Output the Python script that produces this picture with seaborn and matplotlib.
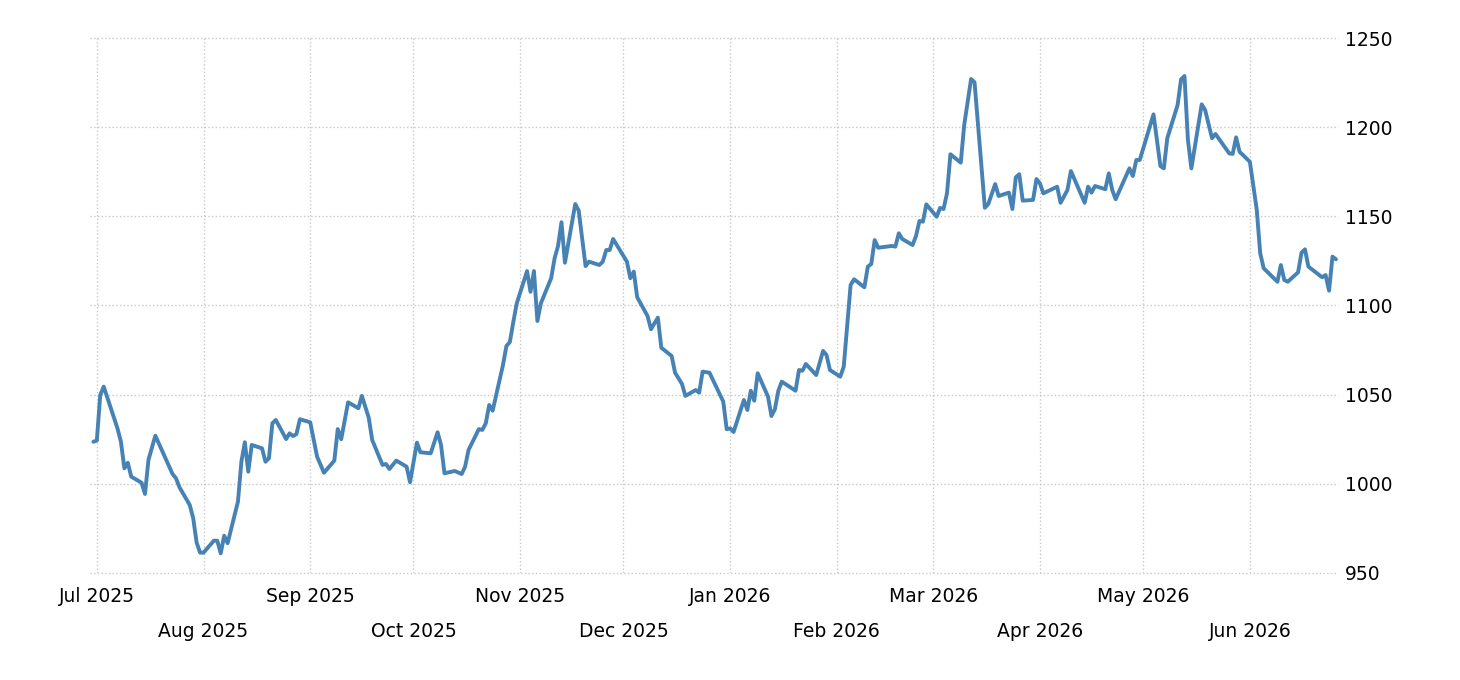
import pandas as pd
import seaborn as sns
import matplotlib.pyplot as plt

# values (approximate)
dates = [
    "2025-06-30", "2025-07-01", "2025-07-02", "2025-07-03", "2025-07-07", "2025-07-08",
    "2025-07-09", "2025-07-10", "2025-07-11", "2025-07-14", "2025-07-15", "2025-07-16",
    "2025-07-18", "2025-07-23", "2025-07-24", "2025-07-25", "2025-07-28", "2025-07-29",
    "2025-07-30", "2025-07-31", "2025-08-01", "2025-08-04", "2025-08-05", "2025-08-06",
    "2025-08-07", "2025-08-08", "2025-08-11", "2025-08-12", "2025-08-13", "2025-08-14",
    "2025-08-15", "2025-08-18", "2025-08-19", "2025-08-20", "2025-08-21", "2025-08-22",
    "2025-08-25", "2025-08-26", "2025-08-27", "2025-08-28", "2025-08-29",
    "2025-09-01", "2025-09-03", "2025-09-05", "2025-09-08", "2025-09-09", "2025-09-10",
    "2025-09-12", "2025-09-15", "2025-09-16", "2025-09-18", "2025-09-19", "2025-09-22",
    "2025-09-23", "2025-09-24", "2025-09-26", "2025-09-29", "2025-09-30",
    "2025-10-02", "2025-10-03", "2025-10-06", "2025-10-08", "2025-10-09", "2025-10-10",
    "2025-10-13", "2025-10-15", "2025-10-16", "2025-10-17", "2025-10-20", "2025-10-21",
    "2025-10-22", "2025-10-23", "2025-10-24", "2025-10-27", "2025-10-28", "2025-10-29",
    "2025-10-30", "2025-10-31",
    "2025-11-03", "2025-11-04", "2025-11-05", "2025-11-06", "2025-11-07", "2025-11-10",
    "2025-11-11", "2025-11-12", "2025-11-13", "2025-11-14", "2025-11-17", "2025-11-18",
    "2025-11-20", "2025-11-21", "2025-11-24", "2025-11-25", "2025-11-26", "2025-11-27",
    "2025-11-28",
    "2025-12-02", "2025-12-03", "2025-12-04", "2025-12-05", "2025-12-08", "2025-12-09",
    "2025-12-11", "2025-12-12", "2025-12-15", "2025-12-16", "2025-12-18", "2025-12-19",
    "2025-12-22", "2025-12-23", "2025-12-24", "2025-12-26", "2025-12-30", "2025-12-31",
    "2026-01-01", "2026-01-02", "2026-01-05", "2026-01-06", "2026-01-07", "2026-01-08",
    "2026-01-09", "2026-01-12", "2026-01-13", "2026-01-14", "2026-01-15", "2026-01-16",
    "2026-01-20", "2026-01-21", "2026-01-22", "2026-01-23", "2026-01-26", "2026-01-28",
    "2026-01-29", "2026-01-30",
    "2026-02-02", "2026-02-03", "2026-02-05", "2026-02-06", "2026-02-09", "2026-02-10",
    "2026-02-11", "2026-02-12", "2026-02-13", "2026-02-17", "2026-02-18", "2026-02-19",
    "2026-02-20", "2026-02-23", "2026-02-24", "2026-02-25", "2026-02-26", "2026-02-27",
    "2026-03-02", "2026-03-03", "2026-03-04", "2026-03-05", "2026-03-06", "2026-03-09",
    "2026-03-10", "2026-03-12", "2026-03-13", "2026-03-16", "2026-03-17", "2026-03-19",
    "2026-03-20", "2026-03-23", "2026-03-24", "2026-03-25", "2026-03-26", "2026-03-27",
    "2026-03-30", "2026-03-31",
    "2026-04-01", "2026-04-02", "2026-04-06", "2026-04-07", "2026-04-09", "2026-04-10",
    "2026-04-14", "2026-04-15", "2026-04-16", "2026-04-17", "2026-04-20", "2026-04-21",
    "2026-04-22", "2026-04-23", "2026-04-27", "2026-04-28", "2026-04-29", "2026-04-30",
    "2026-05-04", "2026-05-06", "2026-05-07", "2026-05-08", "2026-05-11", "2026-05-12",
    "2026-05-13", "2026-05-14", "2026-05-15", "2026-05-18", "2026-05-19", "2026-05-21",
    "2026-05-22", "2026-05-26", "2026-05-27", "2026-05-28", "2026-05-29",
    "2026-06-01", "2026-06-03", "2026-06-04", "2026-06-05", "2026-06-09", "2026-06-10",
    "2026-06-11", "2026-06-12", "2026-06-15", "2026-06-16", "2026-06-17", "2026-06-18",
    "2026-06-22", "2026-06-23", "2026-06-24", "2026-06-25", "2026-06-26",
]
prices = [
    1023.6, 1024.2, 1049.8, 1054.5, 1031.1, 1023.6,
    1008.7, 1011.8, 1004.0, 1000.6, 994.3, 1013.4,
    1027.0, 1005.5, 1003.1, 998.1, 988.1, 980.7,
    967.0, 961.4, 961.4, 968.1, 968.1, 961.0,
    970.9, 966.7, 990.0, 1012.4, 1023.3, 1006.8,
    1021.8, 1019.9, 1012.4, 1014.3, 1033.9, 1035.8,
    1025.1, 1028.3, 1026.8, 1027.9, 1036.2,
    1034.5, 1015.2, 1006.2, 1013.0, 1030.7, 1025.0,
    1045.7, 1042.4, 1049.3, 1037.1, 1024.6, 1010.6,
    1011.1, 1008.3, 1013.0, 1009.6, 1000.9,
    1023.1, 1017.7, 1017.1, 1028.9, 1021.8, 1005.9,
    1007.2, 1005.5, 1009.6, 1019.0, 1030.7, 1030.2,
    1033.9, 1044.2, 1041.0, 1066.6, 1077.3, 1079.5,
    1090.7, 1101.2,
    1119.3, 1107.7, 1119.3, 1091.3, 1101.2, 1115.3,
    1126.5, 1133.4, 1146.7, 1124.0, 1156.9, 1153.2,
    1122.1, 1124.6, 1122.7, 1124.6, 1131.1, 1131.1,
    1137.3,
    1124.6, 1115.3, 1119.0, 1104.6, 1094.1, 1086.7,
    1093.2, 1076.3, 1071.7, 1062.3, 1056.0, 1049.3,
    1052.6, 1051.1, 1062.9, 1062.3, 1046.1, 1030.6,
    1031.1, 1029.1, 1047.0, 1041.4, 1052.2, 1046.6,
    1062.0, 1048.9, 1038.0, 1041.8, 1052.2, 1057.3,
    1052.2, 1063.8, 1063.4, 1067.2, 1061.0, 1074.5,
    1072.2, 1063.8,
    1060.1, 1065.7, 1111.5, 1114.7, 1110.2, 1121.8,
    1123.3, 1136.7, 1132.4, 1133.4, 1133.0, 1140.5,
    1137.3, 1133.9, 1139.0, 1147.4, 1147.0, 1156.7,
    1149.8, 1154.7, 1154.1, 1162.9, 1184.8, 1180.1,
    1201.2, 1227.0, 1225.2, 1154.8, 1156.9, 1168.1,
    1161.4, 1163.3, 1154.1, 1171.9, 1173.6, 1158.8,
    1159.2, 1170.9,
    1168.5, 1162.9, 1166.6, 1157.6, 1164.8, 1175.4,
    1157.6, 1166.6, 1163.3, 1167.0, 1165.2, 1174.1,
    1164.8, 1159.6, 1176.9, 1172.6, 1181.6, 1181.6,
    1207.2, 1178.2, 1176.9, 1193.8, 1212.4, 1226.8,
    1228.7, 1192.8, 1176.9, 1212.8, 1209.6, 1193.8,
    1196.2, 1185.3, 1185.0, 1194.3, 1186.2,
    1180.6, 1153.6, 1129.3, 1120.9, 1113.3, 1122.7,
    1114.3, 1113.3, 1118.6, 1129.6, 1131.5, 1121.8,
    1115.8, 1117.1, 1108.3, 1127.4, 1125.9,
]
month_ticks = ["2025-07-01", "2025-08-01", "2025-09-01", "2025-10-01", "2025-11-01",
               "2025-12-01", "2026-01-01", "2026-02-01", "2026-03-01", "2026-04-01",
               "2026-05-01", "2026-06-01"]
y_ticks = [950, 1000, 1050, 1100, 1150, 1200, 1250]

df = pd.DataFrame({"date": pd.to_datetime(dates), "price": prices})
ticks = pd.to_datetime(month_ticks)

sns.set_style("white")
plt.rcParams['font.family'] = ['DejaVu Sans']

fig = plt.figure(figsize=(14.6, 6.8), dpi=100)
ax = fig.add_axes([0.0616, 0.1574, 0.9164 - 0.0616, 0.9441 - 0.1574])

sns.lineplot(data=df, x="date", y="price", ax=ax, color="#4682b4", linewidth=2.8)

ax.set_ylim(950, 1250)
ax.set_xlim(pd.Timestamp("2025-06-29"), pd.Timestamp("2026-06-26 14:00"))
ax.set_yticks(y_ticks)
ax.yaxis.tick_right()
ax.tick_params(axis="y", length=0, pad=5, labelsize=13.5, labelcolor="#000000")

# alternate the month labels on two rows
ax.set_xticks(ticks[::2])
ax.set_xticklabels([t.strftime("%b %Y") for t in ticks[::2]])
ax.set_xticks(ticks[1::2], minor=True)
ax.set_xticklabels([t.strftime("%b %Y") for t in ticks[1::2]], minor=True)
ax.tick_params(axis="x", which="major", length=6, width=1, color="#d0d0d0",
               pad=4, labelsize=13.5, labelcolor="#000000")
ax.tick_params(axis="x", which="minor", length=6, width=1, color="#d0d0d0",
               pad=29, labelsize=13.5, labelcolor="#000000")

ax.grid(True, which="both", axis="x", color="#c8c8c8", linestyle=":", linewidth=1)
ax.grid(True, which="major", axis="y", color="#c8c8c8", linestyle=":", linewidth=1)
for gl in ax.get_ygridlines():
    gl.set_clip_on(False)
for s in ax.spines.values():
    s.set_visible(False)
ax.set_xlabel("")
ax.set_ylabel("")

fig.savefig("out.png", dpi=100)
